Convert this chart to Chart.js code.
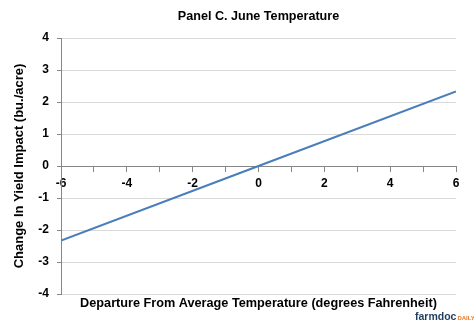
<!DOCTYPE html>
<html>
<head>
<meta charset="utf-8">
<script src="https://cdn.jsdelivr.net/npm/chart.js@4"></script>
<style>
html,body{margin:0;padding:0;background:#fff;}
#wrap{width:474px;height:322px;}
</style>
</head>
<body>
<div id="wrap"><canvas id="c" width="474" height="322"></canvas></div>
<script>
const departures = [-6, 0, 6];
const yieldImpact = [-2.33, 0, 2.33];
const xTickLabels = [-6, -4, -2, 0, 2, 4, 6];
const yTickLabels = [-4, -3, -2, -1, 0, 1, 2, 3, 4];

const FONT = '"Liberation Sans", Arial, sans-serif';
const chartTitle = 'Panel C. June Temperature';
const xTitle = 'Departure From Average Temperature (degrees Fahrenheit)';

const textPlugin = {
  id: 'texts',
  afterDraw(chart) {
    const ctx = chart.ctx;
    const a = chart.chartArea;
    const cx = (a.left + a.right) / 2;
    ctx.save();
    ctx.fillStyle = '#000';
    ctx.textAlign = 'center';
    ctx.textBaseline = 'middle';
    ctx.font = 'bold 12.6px ' + FONT;
    ctx.fillText(chartTitle, cx, 17);
    ctx.font = 'bold 12.7px ' + FONT;
    ctx.fillText(xTitle, cx, 303.5);
    // logo
    ctx.textBaseline = 'alphabetic';
    ctx.textAlign = 'left';
    ctx.font = 'bold 10.5px ' + FONT;
    ctx.fillStyle = '#1f3d5c';
    const x0 = 415;
    ctx.fillText('farmdoc', x0, 320);
    const w = ctx.measureText('farmdoc').width;
    ctx.font = 'bold 6px ' + FONT;
    ctx.fillStyle = '#e87722';
    ctx.fillText('DAILY', x0 + w + 1, 320);
    ctx.restore();
  }
};

new Chart(document.getElementById('c'), {
  type: 'line',
  data: {
    datasets: [{
      data: departures.map((x, i) => ({x: x, y: yieldImpact[i]})),
      borderColor: '#4a7ebb',
      borderWidth: 2.2,
      pointRadius: 0,
      fill: false,
      tension: 0
    }]
  },
  options: {
    responsive: false,
    animation: false,
    layout: {padding: {left: 0, right: 18, top: 38, bottom: 28}},
    plugins: {
      legend: {display: false},
      tooltip: {enabled: false},
      title: {display: false},
      subtitle: {display: false}
    },
    scales: {
      x: {
        type: 'linear',
        position: {y: 0},
        min: -6,
        max: 6,
        ticks: {
          stepSize: 1,
          autoSkip: false,
          maxRotation: 0,
          color: '#000',
          font: {family: FONT, size: 12, weight: 'bold'},
          padding: 5,
          callback: (v) => xTickLabels.includes(v) ? String(v) : ''
        },
        grid: {
          drawOnChartArea: false,
          drawTicks: true,
          tickLength: 5,
          tickColor: '#868686'
        },
        border: {color: '#868686', width: 1}
      },
      y: {
        min: -4,
        max: 4,
        ticks: {
          stepSize: 1,
          color: '#000',
          font: {family: FONT, size: 12, weight: 'bold'},
          padding: 8,
          callback: (v) => yTickLabels.includes(v) ? String(v) : ''
        },
        grid: {
          color: '#d9d9d9',
          tickColor: '#868686',
          tickLength: 4
        },
        border: {color: '#868686', width: 1},
        title: {
          display: true,
          text: 'Change In Yield Impact (bu./acre)',
          color: '#000',
          font: {family: FONT, size: 13, weight: 'bold'},
          padding: {top: 12, bottom: 0}
        },
        afterFit: (scale) => { scale.width = 61; }
      }
    }
  },
  plugins: [textPlugin]
});
</script>
</body>
</html>
